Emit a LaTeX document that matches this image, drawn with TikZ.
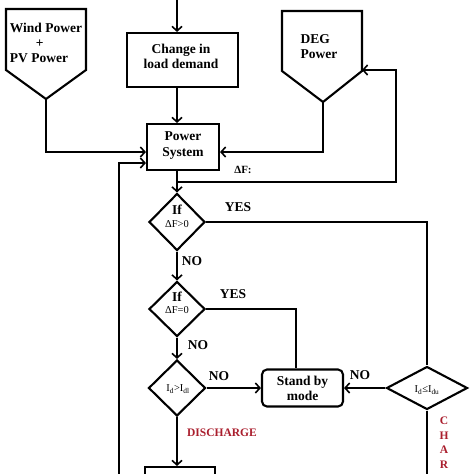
\documentclass[tikz,border=0pt]{standalone}
\usepackage{fontspec}
\setmainfont{Liberation Serif}
\usetikzlibrary{arrows.meta,shapes.geometric}
\definecolor{dred}{RGB}{170,30,45}
\begin{document}
\begin{tikzpicture}[x=1pt,y=-1pt,line width=2.1pt,
  lab/.style={font=\fontsize{13.5}{15}\selectfont\bfseries, align=center, inner sep=0pt},
  small/.style={font=\fontsize{10.5}{12}\selectfont, inner sep=0pt},
  box/.style={draw, line width=2.1pt, inner sep=0pt},
  dia/.style={draw, diamond, line width=2.1pt, inner sep=0pt},
  arr/.style={-{Straight Barb[length=4.5pt,width=10pt,line width=1.6pt]}},
  redlab/.style={font=\fontsize{11.5}{12}\selectfont\bfseries, text=dred, inner sep=0pt}]
\useasboundingbox[fill=white] (0,0) rectangle (474,474);
% source shapes
\draw (6,9) -- (86,9) -- (86,70) -- (46,99) -- (6,70) -- cycle;
\coordinate (wtip) at (46,99);
\node[lab, align=left] (wtxt) at (46,43) {Wind Power\\\hspace*{26pt}+\\PV Power};
\draw (282,11) -- (362,11) -- (362,71) -- (323,102) -- (282,71) -- cycle;
\coordinate (dtip) at (323,102);
\coordinate (dcorner) at (362,70);
\node[lab, align=left] (dtxt) at (319,47) {DEG\\Power};
% boxes
\node[box, minimum width=111pt, minimum height=54pt] (chg) at (182.5,60) {};
\node[lab] (chgt) at (181,56) {Change in\\load demand};
\node[box, minimum width=72pt, minimum height=46pt] (ps) at (183,147) {};
\node[lab, font=\fontsize{13.5}{16}\selectfont\bfseries] (pst) at (183,146) {Power\\System};
\node[box, rounded corners=5pt, minimum width=81pt, minimum height=37pt] (sb) at (302.5,388) {};
\node[lab] (sbt) at (302.5,388) {Stand by\\mode};
\node[box, minimum width=70pt, minimum height=30pt] (bot) at (180,482) {};
% diamonds
\node[dia, minimum width=56pt, minimum height=57pt] (d1) at (177,222) {};
\node[lab] (d1a) at (177,210) {If};
\node[small] (d1b) at (177,224) {ΔF>0};
\node[dia, minimum width=56pt, minimum height=55pt] (d2) at (177,309) {};
\node[lab] (d2a) at (177,297) {If};
\node[small] (d2b) at (177,310) {ΔF=0};
\node[dia, minimum width=57pt, minimum height=56pt] (d3) at (177,388) {};
\node[small] (d3t) at (178,389) {I\textsubscript{d}>I\textsubscript{dl}};
\node[dia, minimum width=81pt, minimum height=43pt] (d4) at (427,388) {};
\node[small] (d4t) at (427,390) {I\textsubscript{d}≤I\textsubscript{du}};
% coordinates
\coordinate (top) at (177,0);
\coordinate (fb) at (177,182);
\coordinate (fbR) at (396,70);
\coordinate (lb) at (119,480);
\coordinate (rb) at (427,480);
% connectors
\draw[arr] (top) -- (top |- chg.north);
\draw[arr] (chg.south -| top) -- (ps.north -| top);
\draw[arr] (wtip) |- ([yshift=-5pt]ps.west);
\draw[arr] (dtip) |- ([yshift=-5pt]ps.east);
\draw[arr] (lb) |- ([yshift=-16pt]ps.west);
\draw[arr] (ps.south -| top) -- (d1.north);
\draw[arr] (fb) -| (fbR) -- (dcorner);
\draw (d1.east) -| (d4.north);
\draw[arr] (d1.south) -- (d2.north);
\draw (d2.east) -| ([xshift=-6.5pt]sb.north);
\draw[arr] (d2.south) -- (d3.north);
\draw[arr] (d3.east) -- (sb.west);
\draw[arr] (d4.west) -- (sb.east);
\draw[arr] (d3.south) -- (d3.south |- bot.north);
\draw (d4.south) -- (rb);
% labels
\node[lab, font=\fontsize{11}{12}\selectfont\bfseries] (dfl) at (243,170) {ΔF:};
\node[lab] (yes1) at (238,207) {YES};
\node[lab] (yes2) at (233,294) {YES};
\node[lab] (no1) at (192,261) {NO};
\node[lab] (no2) at (198,345) {NO};
\node[lab] (no3) at (219,376) {NO};
\node[lab] (no4) at (360,375) {NO};
\node[redlab] (dis) at (222,433) {DISCHARGE};
\node[redlab] (c1) at (444,421) {C};
\node[redlab] (c2) at (444,436) {H};
\node[redlab] (c3) at (444,450) {A};
\node[redlab] (c4) at (444,465) {R};
\end{tikzpicture}
\end{document}
